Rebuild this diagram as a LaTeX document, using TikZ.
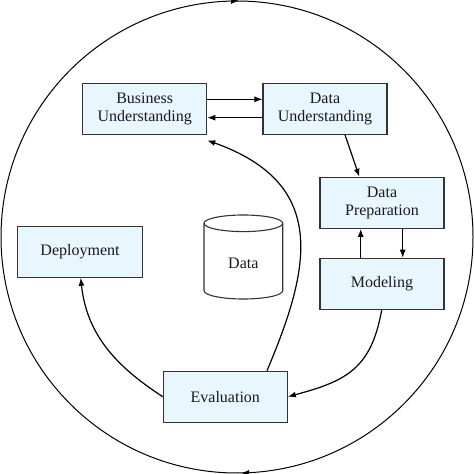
\documentclass[tikz,border=0pt]{standalone}
\usepackage{fontspec}
\setmainfont{Liberation Serif}
\usetikzlibrary{arrows.meta}
\definecolor{boxfill}{HTML}{E8F6FD}
\definecolor{boxline}{HTML}{333333}
\definecolor{txt}{HTML}{1A1A1A}
\tikzset{
  stagebox/.style={draw=boxline, line width=1.1pt, fill=boxfill, minimum width=124pt, minimum height=51pt, align=center, inner sep=0pt, text=txt, font=\fontsize{16}{18}\selectfont},
  conn/.style={line width=1.2pt, -{Latex[length=8pt,width=6pt]}},
}
\begin{document}
\begin{tikzpicture}[x=1pt,y=1pt]
\useasboundingbox (0,0) rectangle (474,474);
% outer cycle
\coordinate (cc) at (237,237);
\draw[line width=1pt] (cc) circle (236);
\coordinate (ta) at (231,473);
\coordinate (tb) at (239,473);
\coordinate (ba) at (249,1);
\coordinate (bb) at (241,1);
\draw[conn] (ta) -- (tb);
\draw[conn] (ba) -- (bb);
% boxes
\node[stagebox] (bu) at (144.7,365.3) {Business\\Understanding};
\node[stagebox] (du) at (325,365.3) {Data\\Understanding};
\node[stagebox] (dp) at (382,271.2) {Data\\Preparation};
\node[stagebox] (mo) at (382,190.2) {Modeling};
\node[stagebox, minimum width=125pt] (de) at (80,222.3) {Deployment};
\node[stagebox] (ev) at (225.3,77.3) {Evaluation};
% data cylinder
\draw[line width=1.1pt, boxline, fill=white] (204,250.7) -- (204,183.3) arc[start angle=180, end angle=360, x radius=39.35, y radius=8.3] -- (282.7,250.7);
\draw[line width=1.1pt, boxline] (243.35,250.7) ellipse[x radius=39.35, y radius=8.3];
\node[text=txt, font=\fontsize{16}{18}\selectfont] (data) at (243.3,211) {Data};
% connectors
\draw[conn] ([yshift=9.4pt]bu.east) -- ([yshift=9.4pt]du.west);
\draw[conn] ([yshift=-9pt]du.west) -- ([yshift=-9pt]bu.east);
\draw[conn] ([xshift=20pt]du.south) -- ([xshift=-22.7pt]dp.north);
\draw[conn] ([xshift=20.7pt]dp.south) -- ([xshift=20.7pt]mo.north);
\draw[conn] ([xshift=-21.3pt]mo.north) -- ([xshift=-21.3pt]dp.south);
\draw[conn] ([xshift=-0.3pt]mo.south) to[out=-100, in=15, looseness=1.2] (ev.east);
\draw[conn] ([xshift=41.7pt]ev.north) .. controls (310,205) and (330,290) .. ([yshift=-5.6pt]bu.south east);
\draw[conn] (ev.west) to[out=147, in=-84] ([xshift=0.7pt]de.south);
\end{tikzpicture}
\end{document}
